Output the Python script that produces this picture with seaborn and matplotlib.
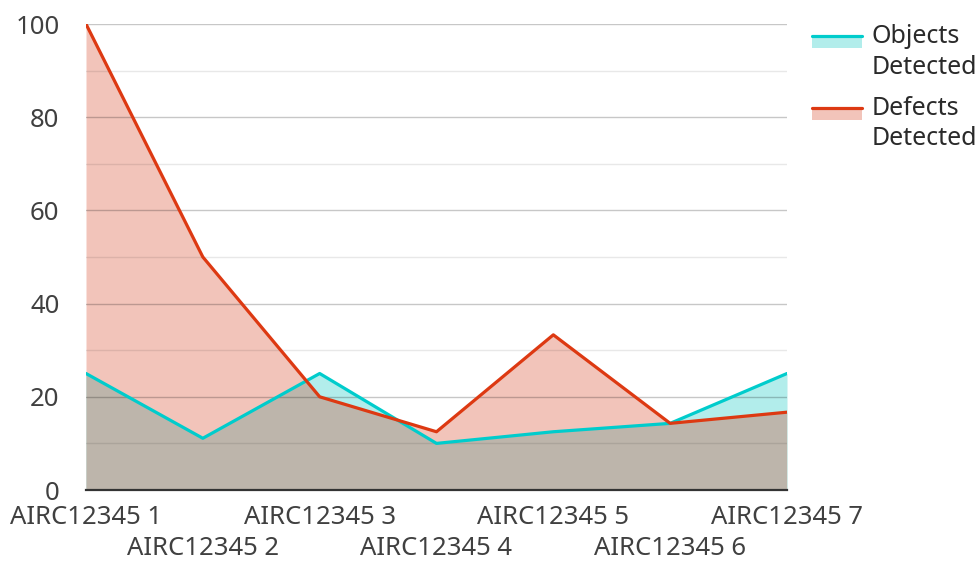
import numpy as np
import pandas as pd
import matplotlib
matplotlib.use("Agg")
import matplotlib.pyplot as plt
import seaborn as sns
from matplotlib.patches import Rectangle, PathPatch
from matplotlib.lines import Line2D
from matplotlib.legend_handler import HandlerBase
from matplotlib.ticker import MultipleLocator

# chart data
categories = ["AIRC12345 1", "AIRC12345 2", "AIRC12345 3", "AIRC12345 4",
              "AIRC12345 5", "AIRC12345 6", "AIRC12345 7"]
objects_detected = [25, 11.1, 25, 10, 12.5, 14.3, 25]
defects_detected = [100, 50, 20, 12.5, 33.3, 14.3, 16.7]
series_names = ["Objects\nDetected", "Defects\nDetected"]

# colours
cyan_line, red_line = "#00CCCC", "#DD3912"
cyan_fill, red_fill, both_fill = "#B2EDEB", "#F2C4BA", "#BDB5AB"
text_col = "#404040"

sns.set_theme(style="white")
plt.rcParams["font.family"] = ["Noto Sans", "DejaVu Sans"]

df = pd.DataFrame({
    "pos": list(range(len(categories))) * 2,
    "value": objects_detected + defects_detected,
    "series": [series_names[0]] * len(categories) + [series_names[1]] * len(categories),
})

fig = plt.figure(figsize=(9.79, 5.62), dpi=100)
ax = fig.add_axes([86 / 979, 1 - 490 / 562, (787 - 86) / 979, (490 - 24) / 562])

x = np.arange(len(categories))

# area fills: each series alone, then the shared part clipped to the defects area
red_poly = ax.fill_between(x, 0, defects_detected, color=red_fill, lw=0, zorder=1)
ax.fill_between(x, 0, objects_detected, color=cyan_fill, lw=0, zorder=1)
both_poly = ax.fill_between(x, 0, objects_detected, color=both_fill, lw=0, zorder=1.1)
clip = PathPatch(red_poly.get_paths()[0], transform=ax.transData, facecolor="none", lw=0)
ax.add_patch(clip)
clip.set_visible(False)
both_poly.set_clip_path(clip)

sns.lineplot(data=df, x="pos", y="value", hue="series", palette=[cyan_line, red_line],
             linewidth=2.3, ax=ax, legend=False, zorder=3)

ax.set_xlim(0, len(categories) - 1)
ax.set_ylim(0, 100)
ax.yaxis.set_major_locator(MultipleLocator(20))
ax.yaxis.set_minor_locator(MultipleLocator(10))
ax.grid(which="major", axis="y", color="black", alpha=0.22, lw=1.0)
ax.grid(which="minor", axis="y", color="black", alpha=0.09, lw=1.0)
ax.set_axisbelow(False)
for g in ax.get_ygridlines():
    g.set_zorder(2)

for s in ["left", "right", "top"]:
    ax.spines[s].set_visible(False)
ax.spines["bottom"].set_color("#333333")
ax.spines["bottom"].set_linewidth(1.6)
ax.spines["bottom"].set_zorder(4)

ax.set_xticks(x)
ax.set_xticklabels(categories)
ax.tick_params(axis="x", length=0, pad=11, labelsize=18.5, labelcolor=text_col)
ax.tick_params(axis="y", which="both", length=0, pad=19, labelsize=18.5, labelcolor=text_col)
# stagger the category labels on two rows
for i, tick in enumerate(ax.xaxis.get_major_ticks()):
    if i % 2 == 1:
        tick.set_pad(33)
ax.set_xlabel("")
ax.set_ylabel("")


class LineOnPatch(HandlerBase):
    def __init__(self, line_col, fill_col):
        super().__init__()
        self.line_col = line_col
        self.fill_col = fill_col

    def create_artists(self, legend, orig, xd, yd, width, height, fontsize, trans):
        top = yd + height * 1.45
        rect = Rectangle((xd, top - height * 0.7), width, height * 0.7,
                         facecolor=self.fill_col, lw=0, transform=trans)
        line = Line2D([xd, xd + width], [top, top], color=self.line_col, lw=2.3, transform=trans)
        return [rect, line]


h1, h2 = Rectangle((0, 0), 1, 1), Rectangle((0, 0), 1, 1)
leg = fig.legend([h1, h2], series_names, loc="upper left", bbox_to_anchor=(802 / 979, 1 - 14 / 562),
                 frameon=False, fontsize=18, labelcolor="#2a2a2a",
                 handler_map={h1: LineOnPatch(cyan_line, cyan_fill), h2: LineOnPatch(red_line, red_fill)},
                 handlelength=2.0, handletextpad=0.4, labelspacing=0.64, borderaxespad=0)
for t in leg.get_texts():
    t.set_linespacing(1.3)

fig.savefig("out.png", dpi=100)
